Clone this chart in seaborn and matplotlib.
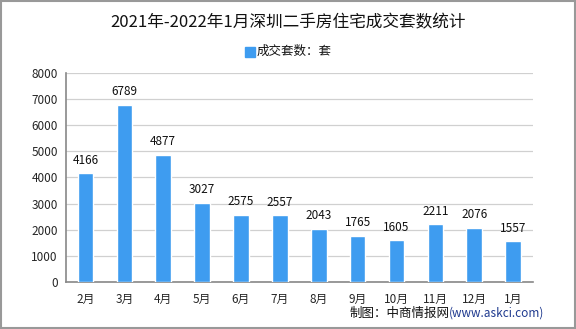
import seaborn as sns
import matplotlib.pyplot as plt
import pandas as pd

months = ['2月', '3月', '4月', '5月', '6月', '7月', '8月', '9月', '10月', '11月', '12月', '1月']
deals = [4166, 6789, 4877, 3027, 2575, 2557, 2043, 1765, 1605, 2211, 2076, 1557]
yticks = [0, 1000, 2000, 3000, 4000, 5000, 6000, 7000, 8000]

df = pd.DataFrame({'month': months, 'deals': deals})

sns.set_style('white')
plt.rcParams['font.family'] = ['Noto Sans CJK SC', 'DejaVu Sans']

fig = plt.figure(figsize=(5.76, 3.29), dpi=100)
ax = fig.add_axes([0.1146, 0.143, 0.81, 0.635])

bar_color = '#3e9cf0'
sns.barplot(x='month', y='deals', data=df, color=bar_color, width=0.4,
            saturation=1, ax=ax, zorder=3)

for i, v in enumerate(deals):
    ax.text(i, v + 250, str(v), ha='center', va='bottom', fontsize=8.5, color='#111111')

ax.set_ylim(0, 8000)
ax.set_yticks(yticks)
ax.set_xlim(-0.5, len(months) - 0.5)
ax.yaxis.grid(True, color='#d0d0d0', linewidth=0.9, zorder=0)
ax.set_xlabel('')
ax.set_ylabel('')
ax.tick_params(axis='y', labelsize=8.5, length=4, color='#888888', pad=2)
ax.tick_params(axis='x', labelsize=8.5, length=0, pad=8)
# tick marks between categories
ax.set_xticks([i + 0.5 for i in range(-1, len(months))], minor=True)
ax.tick_params(axis='x', which='minor', length=5, color='#888888')

for side in ['top', 'right']:
    ax.spines[side].set_visible(False)
for side in ['left', 'bottom']:
    ax.spines[side].set_color('#888888')
    ax.spines[side].set_linewidth(1.2)

fig.text(0.5, 0.93, '2021年-2022年1月深圳二手房住宅成交套数统计', ha='center', va='center',
         fontsize=12, color='#111111')
fig.patches.append(plt.Rectangle((0.426, 0.827), 0.016, 0.03, transform=fig.transFigure,
                                 color=bar_color, figure=fig))
fig.text(0.446, 0.843, '成交套数：套', ha='left', va='center', fontsize=9, color='#111111')

fig.text(0.78, 0.048, '制图：中商情报网', ha='right', va='center', fontsize=9, color='#111111')
fig.text(0.78, 0.048, '(www.askci.com)', ha='left', va='center', fontsize=8.5, color='#1f3a8f')

fig.patches.append(plt.Rectangle((0.001, 0.002), 0.997, 0.995, transform=fig.transFigure,
                                 fill=False, edgecolor='#999999', linewidth=1.5, figure=fig))

fig.savefig('out.png', dpi=100)
